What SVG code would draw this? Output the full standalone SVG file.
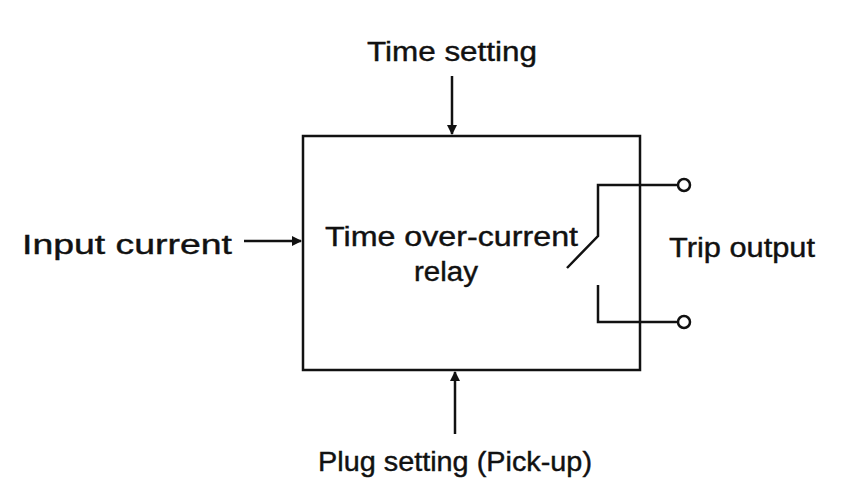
<svg xmlns="http://www.w3.org/2000/svg" width="866" height="493" viewBox="0 0 866 493">
<defs><marker id="a" markerWidth="10" markerHeight="12" refX="9" refY="6" orient="auto" markerUnits="userSpaceOnUse"><path d="M0,1 L10,6 L0,11 Z" fill="#111"/></marker></defs>
<style>text{font-family:"Liberation Sans",Arial,sans-serif;font-size:27px;fill:#111;stroke:#111;stroke-width:0.4}.l{stroke:#111;stroke-width:2.5;fill:none}</style>
<rect width="866" height="493" fill="#fff"/>
<g id="relay"><rect class="l" x="303" y="136" width="337" height="234"/><text x="325" y="246" textLength="253" lengthAdjust="spacingAndGlyphs">Time over-current</text><text x="414" y="281" textLength="64" lengthAdjust="spacingAndGlyphs">relay</text></g>
<g id="switch"><path class="l" d="M678,185 H598 V236 L567,268 M598,285 V322 H678"/><circle class="l" cx="684" cy="185" r="6"/><circle class="l" cx="684" cy="322" r="6"/></g>
<g id="labels"><text x="367" y="61" textLength="170" lengthAdjust="spacingAndGlyphs">Time setting</text><text x="22" y="254" textLength="210" lengthAdjust="spacingAndGlyphs">Input current</text><text x="669" y="257" textLength="146" lengthAdjust="spacingAndGlyphs">Trip output</text><text x="318" y="471" textLength="274" lengthAdjust="spacingAndGlyphs">Plug setting (Pick-up)</text></g>
<g id="connectors"><line class="l" x1="452" y1="76" x2="452" y2="134" marker-end="url(#a)"/><line class="l" x1="455" y1="434" x2="455" y2="372" marker-end="url(#a)"/><line class="l" x1="244" y1="241" x2="301" y2="241" marker-end="url(#a)"/></g>
</svg>
